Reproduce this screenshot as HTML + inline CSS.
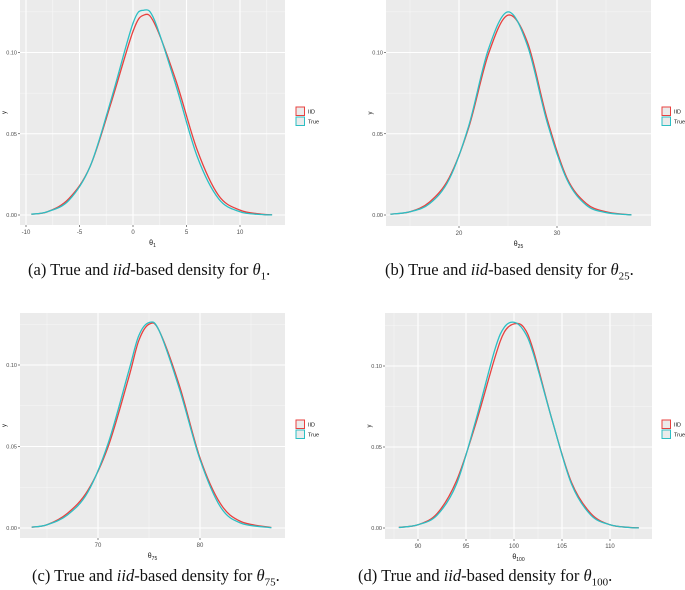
<!DOCTYPE html>
<html><head><meta charset="utf-8">
<style>
body{margin:0;background:#fff;width:685px;height:590px;overflow:hidden;font-family:"Liberation Sans",sans-serif;}
svg{position:absolute;left:0;top:0;}
.cap{position:absolute;font-family:"Liberation Serif",serif;font-size:16.5px;color:#111;white-space:nowrap;}
</style></head><body>
<svg id="chart" width="685" height="590"></svg>
<div class="cap" style="left:28px;top:260px">(a) True and <i>iid</i>-based density for <i>θ</i><sub style="font-size:11px">1</sub>.</div>
<div class="cap" style="left:385px;top:260px">(b) True and <i>iid</i>-based density for <i>θ</i><sub style="font-size:11px">25</sub>.</div>
<div class="cap" style="left:32px;top:566px">(c) True and <i>iid</i>-based density for <i>θ</i><sub style="font-size:11px">75</sub>.</div>
<div class="cap" style="left:358px;top:566px">(d) True and <i>iid</i>-based density for <i>θ</i><sub style="font-size:11px">100</sub>.</div>
<script>
// Panel data
const xA = [-9.5,-8,-6,-4,-2,0,1,2,4,6,8,10,12,13];
const trueA = [0.0005,0.002,0.009,0.030,0.072,0.118,0.126,0.120,0.080,0.036,0.010,0.002,0.0003,0.0001];
const iidA  = [0.0005,0.002,0.010,0.030,0.070,0.113,0.123,0.118,0.083,0.040,0.012,0.003,0.0005,0.0001];
const ticksA = [-10,-5,0,5,10];

const xB = [13,15,17,19,21,23,25,27,29,31,33,35,37,37.6];
const trueB = [0.0005,0.002,0.007,0.022,0.055,0.102,0.125,0.104,0.057,0.022,0.006,0.0015,0.0003,0.0001];
const iidB  = [0.0005,0.002,0.008,0.023,0.054,0.099,0.123,0.106,0.059,0.023,0.007,0.002,0.0004,0.0001];
const ticksB = [20,30];

const xC = [63.5,65,67,69,71,73,74,75,76,78,80,82,84,87];
const trueC = [0.0005,0.002,0.008,0.022,0.052,0.096,0.118,0.126,0.121,0.085,0.042,0.013,0.003,0.0002];
const iidC  = [0.0005,0.002,0.009,0.023,0.050,0.092,0.115,0.125,0.121,0.087,0.043,0.015,0.004,0.0003];
const ticksC = [70,80];

const xD = [88,90,92,94,96,98,99,100,101,102,104,106,108,110,112,113];
const trueD = [0.0003,0.002,0.008,0.027,0.066,0.110,0.124,0.127,0.122,0.108,0.066,0.027,0.008,0.002,0.0003,0.0001];
const iidD  = [0.0004,0.002,0.009,0.029,0.064,0.105,0.121,0.126,0.124,0.110,0.066,0.028,0.009,0.002,0.0004,0.0001];
const ticksD = [90,95,100,105,110];

const yTicks = [0,0.05,0.10];
const yLabels = ["0.00","0.05","0.10"];

const NS="http://www.w3.org/2000/svg";
const svg=document.getElementById('chart');
function mk(tag,attrs,parent){const e=document.createElementNS(NS,tag);for(const k in attrs)e.setAttribute(k,attrs[k]);(parent||svg).appendChild(e);return e;}

function path(pts){
  let d="M"+pts[0][0].toFixed(2)+","+pts[0][1].toFixed(2);
  for(let i=0;i<pts.length-1;i++){
    const p0=pts[Math.max(0,i-1)],p1=pts[i],p2=pts[i+1],p3=pts[Math.min(pts.length-1,i+2)];
    const c1=[p1[0]+(p2[0]-p0[0])/6,p1[1]+(p2[1]-p0[1])/6];
    const c2=[p2[0]-(p3[0]-p1[0])/6,p2[1]-(p3[1]-p1[1])/6];
    d+="C"+c1[0].toFixed(2)+","+c1[1].toFixed(2)+" "+c2[0].toFixed(2)+","+c2[1].toFixed(2)+" "+p2[0].toFixed(2)+","+p2[1].toFixed(2);
  }
  return d;
}

function panel(id,L,R,T,B,y0,y10,xv0,px0,xv1,px1,xs,tr,iid,ticks,sub,legX,legY){
  const g=mk('g',{});
  
  
  const X=v=>px0+(v-xv0)*(px1-px0)/(xv1-xv0);
  const Y=v=>y0+(v/0.1)*(y10-y0);
  const bg=mk('rect',{x:L,y:T,width:R-L,height:B-T,fill:'#ebebeb'},g);
  
  
  const step=ticks[1]-ticks[0];
  for(let v=ticks[0]-step*3;v<=ticks[ticks.length-1]+step*3;v+=step){
    const m=X(v+step/2);
    if(m>L&&m<R)mk('line',{x1:m,x2:m,y1:T,y2:B,stroke:'#f7f7f7','stroke-width':0.6},g);
  }
  [0.025,0.075,0.125].forEach(v=>{const y=Y(v);if(y>T)mk('line',{x1:L,x2:R,y1:y,y2:y,stroke:'#f7f7f7','stroke-width':0.6},g);});
  ticks.forEach(v=>{const x=X(v);
    mk('line',{x1:x,x2:x,y1:T,y2:B,stroke:'#fff','stroke-width':1.1},g);
    mk('line',{x1:x,x2:x,y1:B,y2:B+2,stroke:'#333','stroke-width':0.6},g);
    const t=mk('text',{x:x,y:B+9,'font-size':6,'text-anchor':'middle',fill:'#4d4d4d'},g);t.textContent=v;
    
    
  });
  yTicks.forEach((v,i)=>{const y=Y(v);
    mk('line',{x1:L,x2:R,y1:y,y2:y,stroke:'#fff','stroke-width':1.1},g);
    mk('line',{x1:L-2,x2:L,y1:y,y2:y,stroke:'#333','stroke-width':0.6},g);
    const t=mk('text',{x:L-3,y:y+2,'font-size':5.5,'text-anchor':'end',fill:'#4d4d4d'},g);t.textContent=yLabels[i];
    
    
  });
  const yl=mk('text',{x:0,y:0,'font-size':6,'text-anchor':'middle',fill:'#111',transform:`translate(${L-14},${(T+B)/2}) rotate(-90)`},g);yl.textContent='y';
  
  
  const xl=mk('text',{x:(L+R)/2,y:B+20,'font-size':7,'text-anchor':'middle',fill:'#111'},g);
  
  
  xl.textContent='θ';
  const ts=mk('tspan',{'font-size':5,dy:2},xl);ts.textContent=sub;
  const pI=mk('path',{d:path(xs.map((x,i)=>[X(x),Y(iid[i])])),fill:'none',stroke:'#e8413f','stroke-width':1.3},g);
  
  
  const pT=mk('path',{d:path(xs.map((x,i)=>[X(x),Y(tr[i])])),fill:'none',stroke:'#2bbfc4','stroke-width':1.3},g);
  
  
  [['IID','#e8413f'],['True','#2bbfc4']].forEach((e,i)=>{
    const r=mk('rect',{x:legX,y:legY+i*10,width:8.5,height:8.5,fill:'#ebebeb',stroke:e[1],'stroke-width':1},g);
    
    
    const t=mk('text',{x:legX+12,y:legY+i*10+6.5,'font-size':5.5,fill:'#111'},g);t.textContent=e[0];
    
    
  });
}
panel('a',20,285,0,225,215,52.5,-10,26,10,240,xA,trueA,iidA,ticksA,'1',296,107);
panel('b',386,651,0,226,215,52.5,20,459,30,557,xB,trueB,iidB,ticksB,'25',662,107);
panel('c',20,285,313,538,528,365,70,98,80,200,xC,trueC,iidC,ticksC,'75',296,420);
panel('d',385,652,313,539,528,366,90,418,100,514,xD,trueD,iidD,ticksD,'100',662,420);
</script>
</body></html>
